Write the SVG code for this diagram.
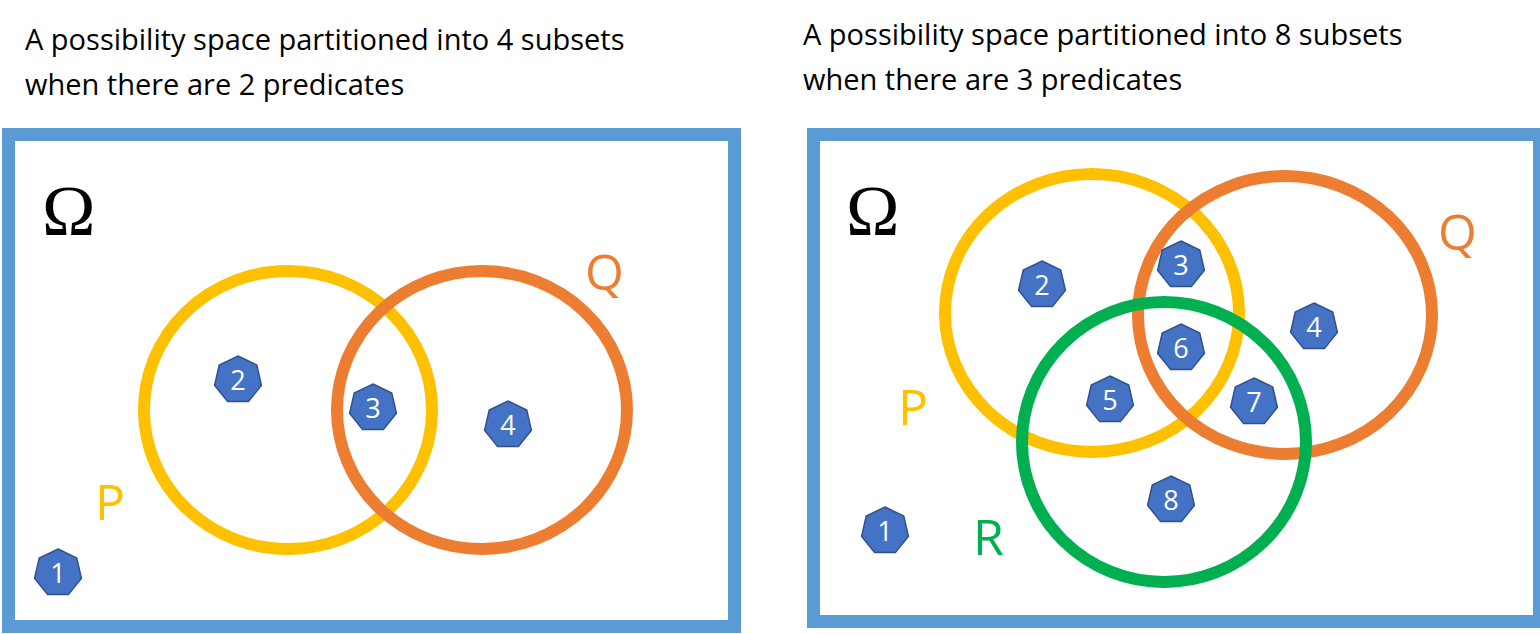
<svg xmlns="http://www.w3.org/2000/svg" xmlns:xlink="http://www.w3.org/1999/xlink" width="1540" height="634" viewBox="0 0 1540 634">
<style>
.t{font-family:"Open Sans","Liberation Sans",sans-serif;font-size:29px;fill:#000}
.box{fill:#fff;stroke:#5B9BD5;stroke-width:13}
.c{fill:none;stroke-width:12}
.lb{font-family:"Open Sans","Liberation Sans",sans-serif;font-size:50px}
.om{font-family:"Liberation Serif",serif;font-size:72px;fill:#000}
.n{font-family:"Open Sans","Liberation Sans",sans-serif;font-size:27px;fill:#fff;text-anchor:middle}
</style>
<defs>
<polygon id="h" points="0,-24 18.76,-14.96 23.4,5.34 10.41,21.62 -10.41,21.62 -23.4,5.34 -18.76,-14.96" fill="#4472C4" stroke="#2F528F" stroke-width="1.5"/>
</defs>
<text class="t" x="25" y="50">A possibility space partitioned into 4 subsets</text>
<text class="t" x="25" y="95">when there are 2 predicates</text>
<text class="t" x="803" y="45">A possibility space partitioned into 8 subsets</text>
<text class="t" x="803" y="90">when there are 3 predicates</text>
<g id="left">
<rect class="box" x="8.5" y="134.5" width="726" height="492"/>
<text class="om" x="42" y="235">Ω</text>
<ellipse class="c" stroke="#FFC000" cx="288" cy="410" rx="144" ry="139"/>
<ellipse class="c" stroke="#ED7D31" cx="482" cy="410" rx="145" ry="139"/>
<text class="lb" fill="#FFC000" x="95" y="520">P</text>
<text class="lb" fill="#ED7D31" x="585" y="290">Q</text>
<g id="l1"><use xlink:href="#h" x="58" y="573"/><text class="n" x="58" y="583">1</text></g>
<g id="l2"><use xlink:href="#h" x="238" y="380"/><text class="n" x="238" y="390">2</text></g>
<g id="l3"><use xlink:href="#h" x="373" y="408"/><text class="n" x="373" y="418">3</text></g>
<g id="l4"><use xlink:href="#h" x="508" y="425"/><text class="n" x="508" y="435">4</text></g>
</g>
<g id="right">
<rect class="box" x="813.5" y="134.5" width="726" height="487"/>
<text class="om" x="846" y="235">Ω</text>
<ellipse class="c" stroke="#FFC000" cx="1092" cy="313" rx="147" ry="139"/>
<ellipse class="c" stroke="#ED7D31" cx="1285" cy="315" rx="147" ry="139"/>
<ellipse class="c" stroke="#00B050" cx="1164" cy="442" rx="142" ry="140"/>
<text class="lb" fill="#FFC000" x="898" y="425">P</text>
<text class="lb" fill="#ED7D31" x="1438" y="250">Q</text>
<text class="lb" fill="#00B050" x="973" y="555">R</text>
<g id="r1"><use xlink:href="#h" x="885" y="531"/><text class="n" x="885" y="541">1</text></g>
<g id="r2"><use xlink:href="#h" x="1042" y="285"/><text class="n" x="1042" y="295">2</text></g>
<g id="r3"><use xlink:href="#h" x="1181" y="265"/><text class="n" x="1181" y="275">3</text></g>
<g id="r4"><use xlink:href="#h" x="1314" y="327"/><text class="n" x="1314" y="337">4</text></g>
<g id="r5"><use xlink:href="#h" x="1110" y="400"/><text class="n" x="1110" y="410">5</text></g>
<g id="r6"><use xlink:href="#h" x="1181" y="348"/><text class="n" x="1181" y="358">6</text></g>
<g id="r7"><use xlink:href="#h" x="1254" y="402"/><text class="n" x="1254" y="412">7</text></g>
<g id="r8"><use xlink:href="#h" x="1171" y="500"/><text class="n" x="1171" y="510">8</text></g>
</g>
<g id="connectors"/>
</svg>
